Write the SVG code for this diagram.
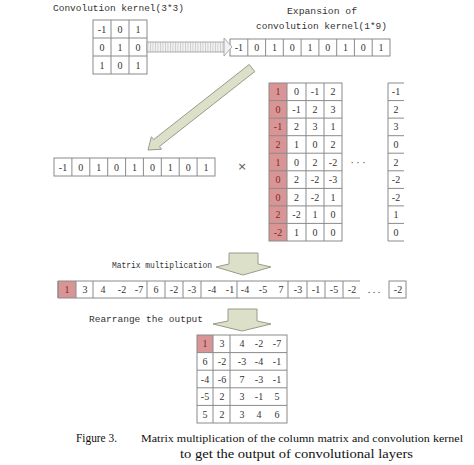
<svg xmlns="http://www.w3.org/2000/svg" width="474" height="465" viewBox="0 0 474 465">
<defs>
<style>
.g{fill:none;stroke:#8a8a8a;stroke-width:1}
.n{font-family:"Liberation Serif",serif;font-size:10px;fill:#333;text-anchor:middle}
.p{fill:#7a2a2a}
.pk{fill:#d99595;stroke:none}
.lb{font-family:"Liberation Mono",monospace;font-size:9.5px;fill:#333}
.ar{fill:#dde0c9;stroke:#9a9a8a;stroke-width:1}
.cap{font-family:"Liberation Serif",serif;font-size:12.5px;fill:#111}
</style>
<pattern id="hatch" width="2.5" height="4" patternUnits="userSpaceOnUse">
<rect width="2.5" height="4" fill="#f2f2f2"/>
<line x1="0.5" y1="0" x2="0.5" y2="4" stroke="#c4c4c4" stroke-width="0.8"/>
</pattern>
</defs>
<rect width="474" height="465" fill="#fff"/>

<g id="kernel3x3">
<text class="lb" x="53" y="11" textLength="131" lengthAdjust="spacingAndGlyphs">Convolution kernel(3*3)</text>
<rect class="g" x="93" y="20" width="54" height="54"/>
<path class="g" d="M111 20V74M129 20V74M93 38H147M93 56H147"/>
<text class="n" x="102" y="32.5">-1</text><text class="n" x="120" y="32.5">0</text><text class="n" x="138" y="32.5">1</text>
<text class="n" x="102" y="50.5">0</text><text class="n" x="120" y="50.5">1</text><text class="n" x="138" y="50.5">0</text>
<text class="n" x="102" y="68.5">1</text><text class="n" x="120" y="68.5">0</text><text class="n" x="138" y="68.5">1</text>
</g>

<g id="kernel1x9">
<text class="lb" x="287" y="14" textLength="70" lengthAdjust="spacingAndGlyphs">Expansion of</text>
<text class="lb" x="256" y="29" textLength="131" lengthAdjust="spacingAndGlyphs">convolution kernel(1*9)</text>
<rect class="g" x="230" y="39" width="160" height="17"/>
<path class="g" d="M247.8 39V56M265.6 39V56M283.3 39V56M301.1 39V56M318.9 39V56M336.7 39V56M354.4 39V56M372.2 39V56"/>
<text class="n" x="238.9" y="51">-1</text><text class="n" x="256.7" y="51">0</text><text class="n" x="274.4" y="51">1</text><text class="n" x="292.2" y="51">0</text><text class="n" x="310" y="51">1</text><text class="n" x="327.8" y="51">0</text><text class="n" x="345.6" y="51">1</text><text class="n" x="363.3" y="51">0</text><text class="n" x="381.1" y="51">1</text>
</g>

<g id="rowvector">
<rect class="g" x="54" y="158" width="161" height="18"/>
<path class="g" d="M71.9 158V176M89.8 158V176M107.7 158V176M125.6 158V176M143.4 158V176M161.3 158V176M179.2 158V176M197.1 158V176"/>
<text class="n" x="63" y="170.5">-1</text><text class="n" x="80.8" y="170.5">0</text><text class="n" x="98.7" y="170.5">1</text><text class="n" x="116.6" y="170.5">0</text><text class="n" x="134.5" y="170.5">1</text><text class="n" x="152.4" y="170.5">0</text><text class="n" x="170.3" y="170.5">1</text><text class="n" x="188.2" y="170.5">0</text><text class="n" x="206.1" y="170.5">1</text>
</g>

<g id="times">
<text x="242" y="170" font-family="DejaVu Sans,sans-serif" font-size="11" fill="#555" text-anchor="middle">×</text>
</g>

<g id="columnmatrix">
<rect class="pk" x="269" y="83" width="18" height="158"/>
<rect class="g" x="269" y="83" width="73" height="158"/>
<path class="g" d="M287 83V241M306 83V241M324 83V241M269 100.6H342M269 118.1H342M269 135.7H342M269 153.2H342M269 170.8H342M269 188.4H342M269 205.9H342M269 223.4H342"/>
<g class="n">
<text class="p" x="278" y="95.3">1</text><text x="296.5" y="95.3">0</text><text x="315" y="95.3">-1</text><text x="333" y="95.3">2</text>
<text class="p" x="278" y="112.8">0</text><text x="296.5" y="112.8">-1</text><text x="315" y="112.8">2</text><text x="333" y="112.8">3</text>
<text class="p" x="278" y="130.4">-1</text><text x="296.5" y="130.4">2</text><text x="315" y="130.4">3</text><text x="333" y="130.4">1</text>
<text class="p" x="278" y="147.9">2</text><text x="296.5" y="147.9">1</text><text x="315" y="147.9">0</text><text x="333" y="147.9">2</text>
<text class="p" x="278" y="165.5">1</text><text x="296.5" y="165.5">0</text><text x="315" y="165.5">2</text><text x="333" y="165.5">-2</text>
<text class="p" x="278" y="183.1">0</text><text x="296.5" y="183.1">2</text><text x="315" y="183.1">-2</text><text x="333" y="183.1">-3</text>
<text class="p" x="278" y="200.6">0</text><text x="296.5" y="200.6">2</text><text x="315" y="200.6">-2</text><text x="333" y="200.6">1</text>
<text class="p" x="278" y="218.2">2</text><text x="296.5" y="218.2">-2</text><text x="315" y="218.2">1</text><text x="333" y="218.2">0</text>
<text class="p" x="278" y="235.7">-2</text><text x="296.5" y="235.7">1</text><text x="315" y="235.7">0</text><text x="333" y="235.7">0</text>
</g>
<text class="n" x="358" y="166">· · ·</text>
<path class="g" d="M388 83V241M388 83H404M388 100.6H404M388 118.1H404M388 135.7H404M388 153.2H404M388 170.8H404M388 188.4H404M388 205.9H404M388 223.4H404M388 241H404"/>
<g class="n">
<text x="396" y="95.3">-1</text><text x="396" y="112.8">2</text><text x="396" y="130.4">3</text><text x="396" y="147.9">0</text><text x="396" y="165.5">2</text><text x="396" y="183.1">-2</text><text x="396" y="200.6">-2</text><text x="396" y="218.2">1</text><text x="396" y="235.7">0</text>
</g>
</g>

<g id="connectors">
<rect x="147" y="42" width="78" height="10" fill="url(#hatch)" stroke="#9a9a9a" stroke-width="0.8"/>
<polygon points="224,38 232,47 224,56" fill="#f2f2f2" stroke="#9a9a9a" stroke-width="0.8"/>
<polygon class="ar" points="254.8,71.5 159.4,146.5 161.6,149.2 148,150 151.4,136.8 153.7,139.5 249.2,64.5"/>
<polygon class="ar" points="229,253 258,253 258,264 271,267 243,275 216,267 229,264"/>
<polygon class="ar" points="228,309 257,309 257,321 271,324 242,331 213,324 228,321"/>
</g>

<g id="multlabel">
<text class="lb" x="112" y="268" textLength="100" lengthAdjust="spacingAndGlyphs">Matrix multiplication</text>
</g>

<g id="outputrow">
<rect class="pk" x="58" y="281" width="18" height="17"/>
<path class="g" d="M360 281H58V298H360M58 281V298M76 281V298M93 281V298M147 281V298M165 281V298M183 281V298M201 281V298M237 281V298M288 281V298M307 281V298M325 281V298M343 281V298"/>
<rect class="g" x="389" y="281" width="17" height="17"/>
<g class="n">
<text class="p" x="67" y="293">1</text><text x="85" y="293">3</text><text x="103" y="293">4</text><text x="122" y="293">-2</text><text x="139" y="293">-7</text><text x="156" y="293">6</text><text x="174" y="293">-2</text><text x="192" y="293">-3</text><text x="212" y="293">-4</text><text x="230" y="293">-1</text><text x="245" y="293">-4</text><text x="263" y="293">-5</text><text x="281" y="293">7</text><text x="298" y="293">-3</text><text x="316" y="293">-1</text><text x="334" y="293">-5</text><text x="352" y="293">-2</text><text x="374" y="293">. . .</text><text x="398" y="293">-2</text>
</g>
</g>

<g id="rearrangelabel">
<text class="lb" x="89" y="322" textLength="114" lengthAdjust="spacingAndGlyphs">Rearrange the output</text>
</g>

<g id="outputgrid">
<rect class="pk" x="197" y="335" width="16" height="17.6"/>
<rect class="g" x="197" y="335" width="90" height="88"/>
<path class="g" d="M213 335V423M230 335V423M197 352.6H287M197 370.2H287M197 387.8H287M197 405.4H287"/>
<g class="n">
<text class="p" x="205" y="347.3">1</text><text x="222" y="347.3">3</text><text x="242" y="347.3">4</text><text x="259" y="347.3">-2</text><text x="277" y="347.3">-7</text>
<text x="205" y="364.9">6</text><text x="222" y="364.9">-2</text><text x="242" y="364.9">-3</text><text x="259" y="364.9">-4</text><text x="277" y="364.9">-1</text>
<text x="205" y="382.5">-4</text><text x="222" y="382.5">-6</text><text x="242" y="382.5">7</text><text x="259" y="382.5">-3</text><text x="277" y="382.5">-1</text>
<text x="205" y="400.1">-5</text><text x="222" y="400.1">2</text><text x="242" y="400.1">3</text><text x="259" y="400.1">-1</text><text x="277" y="400.1">5</text>
<text x="205" y="417.7">5</text><text x="222" y="417.7">2</text><text x="242" y="417.7">3</text><text x="259" y="417.7">4</text><text x="277" y="417.7">6</text>
</g>
</g>

<g id="caption">
<text class="cap" x="76" y="442" textLength="41" lengthAdjust="spacingAndGlyphs">Figure 3.</text>
<text class="cap" x="141" y="442" font-size="11.2" textLength="322" lengthAdjust="spacingAndGlyphs" style="font-size:11.2px">Matrix multiplication of the column matrix and convolution kernel</text>
<text class="cap" x="180" y="458" textLength="233" lengthAdjust="spacingAndGlyphs">to get the output of convolutional layers</text>
</g>
</svg>
